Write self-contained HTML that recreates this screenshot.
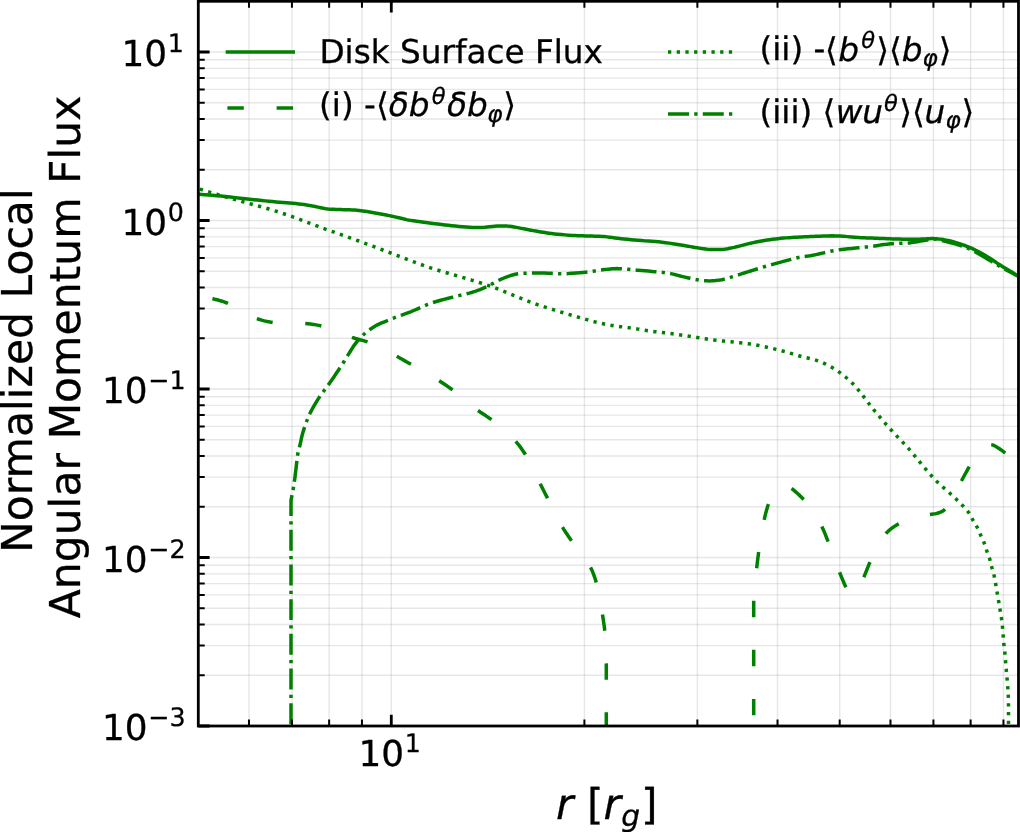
<!DOCTYPE html>
<html lang="en"><head><meta charset="utf-8"><title>Normalized Local Angular Momentum Flux</title>
<style>html,body{margin:0;padding:0;background:#fff}svg{display:block}text{font-family:"DejaVu Sans","Liberation Sans",sans-serif;fill:#000;stroke:#000;stroke-width:.3px;stroke-linejoin:round;text-rendering:geometricPrecision}.it{font-style:italic}.c{fill:none;stroke:#008000;stroke-width:3.5;stroke-linejoin:round}.g{stroke:#b0b0b0;stroke-opacity:.3;stroke-width:1.4;fill:none}.tk{stroke:#000;stroke-width:2.8;fill:none}.tm{stroke:#000;stroke-width:2;fill:none}</style></head><body>
<svg width="1020" height="832" viewBox="0 0 1020 832">
<rect width="1020" height="832" fill="#fff"/>
<defs><clipPath id="ax"><rect x="198.30" y="1.28" width="820.20" height="724.72"/></clipPath></defs>
<path class="g" d="M391.30 1.28V726.00 M248.98 1.28V726.00 M291.93 1.28V726.00 M329.13 1.28V726.00 M361.95 1.28V726.00 M584.41 1.28V726.00 M697.37 1.28V726.00 M777.52 1.28V726.00 M839.69 1.28V726.00 M890.48 1.28V726.00 M933.43 1.28V726.00 M970.63 1.28V726.00 M1003.45 1.28V726.00"/>
<path class="g" d="M198.30 557.50H1018.50 M198.30 389.00H1018.50 M198.30 220.50H1018.50 M198.30 52.00H1018.50 M198.30 675.28H1018.50 M198.30 645.61H1018.50 M198.30 624.55H1018.50 M198.30 608.22H1018.50 M198.30 594.88H1018.50 M198.30 583.60H1018.50 M198.30 573.83H1018.50 M198.30 565.21H1018.50 M198.30 506.78H1018.50 M198.30 477.11H1018.50 M198.30 456.05H1018.50 M198.30 439.72H1018.50 M198.30 426.38H1018.50 M198.30 415.10H1018.50 M198.30 405.33H1018.50 M198.30 396.71H1018.50 M198.30 338.28H1018.50 M198.30 308.61H1018.50 M198.30 287.55H1018.50 M198.30 271.22H1018.50 M198.30 257.88H1018.50 M198.30 246.60H1018.50 M198.30 236.83H1018.50 M198.30 228.21H1018.50 M198.30 169.78H1018.50 M198.30 140.11H1018.50 M198.30 119.05H1018.50 M198.30 102.72H1018.50 M198.30 89.38H1018.50 M198.30 78.10H1018.50 M198.30 68.33H1018.50 M198.30 59.71H1018.50"/>
<g clip-path="url(#ax)">
<path class="c" stroke-linecap="square" d="M196.00 193.80L196.15 193.83L196.18 193.85L196.30 193.88L196.72 193.94L197.65 194.04L199.30 194.20L201.76 194.42L204.88 194.68L208.51 194.98L212.49 195.32L216.67 195.70L220.90 196.10L225.35 196.56L230.19 197.07L235.23 197.62L240.29 198.17L245.17 198.71L249.70 199.20L253.86 199.65L257.80 200.08L261.57 200.49L265.22 200.88L268.81 201.25L272.40 201.60L275.99 201.92L279.54 202.20L283.04 202.47L286.44 202.73L289.74 203.00L292.90 203.30L295.88 203.61L298.70 203.93L301.40 204.25L304.05 204.60L306.70 204.98L309.40 205.40L312.20 205.91L315.06 206.50L317.91 207.13L320.71 207.74L323.39 208.28L325.90 208.70L328.14 208.98L330.16 209.16L332.05 209.27L333.94 209.34L335.96 209.41L338.20 209.50L340.75 209.60L343.54 209.68L346.44 209.76L349.35 209.84L352.14 209.95L354.70 210.10L356.96 210.28L358.99 210.48L360.91 210.71L362.82 210.96L364.85 211.26L367.10 211.60L369.60 212.00L372.27 212.44L375.04 212.93L377.88 213.44L380.71 213.97L383.50 214.50L386.31 215.06L389.21 215.66L392.11 216.28L394.93 216.89L397.59 217.47L400.00 218.00L401.99 218.46L403.60 218.87L405.04 219.24L406.54 219.61L408.32 219.99L410.60 220.40L413.45 220.85L416.73 221.31L420.27 221.79L423.96 222.27L427.65 222.75L431.20 223.20L434.63 223.64L438.07 224.09L441.50 224.52L444.93 224.94L448.37 225.33L451.80 225.70L455.35 226.05L459.05 226.39L462.75 226.71L466.30 226.99L469.57 227.22L472.40 227.40L474.65 227.51L476.41 227.57L477.88 227.59L479.27 227.56L480.77 227.49L482.60 227.40L484.79 227.24L487.20 227.01L489.72 226.74L492.27 226.47L494.76 226.24L497.10 226.10L499.25 226.02L501.29 225.97L503.26 225.96L505.23 226.01L507.25 226.12L509.40 226.30L511.68 226.58L514.04 226.96L516.47 227.39L518.92 227.87L521.38 228.35L523.80 228.80L526.18 229.24L528.52 229.70L530.87 230.16L533.24 230.61L535.68 231.07L538.20 231.50L540.78 231.93L543.39 232.35L546.06 232.76L548.82 233.16L551.69 233.54L554.70 233.90L557.96 234.24L561.48 234.57L565.11 234.88L568.72 235.16L572.16 235.40L575.30 235.60L578.09 235.74L580.65 235.82L583.04 235.87L585.34 235.90L587.64 235.94L590.00 236.00L592.39 236.07L594.74 236.13L597.09 236.19L599.46 236.28L601.88 236.41L604.40 236.60L606.98 236.87L609.59 237.20L612.26 237.57L615.02 237.96L617.89 238.34L620.90 238.70L624.10 239.03L627.46 239.36L630.94 239.68L634.48 240.00L638.02 240.30L641.50 240.60L644.93 240.87L648.37 241.10L651.81 241.33L655.24 241.57L658.67 241.85L662.10 242.20L665.59 242.64L669.16 243.14L672.73 243.69L676.21 244.26L679.53 244.80L682.60 245.30L685.39 245.76L687.96 246.21L690.36 246.64L692.65 247.06L694.88 247.44L697.10 247.80L699.28 248.14L701.36 248.46L703.38 248.76L705.37 249.02L707.37 249.24L709.40 249.40L711.46 249.52L713.53 249.59L715.60 249.62L717.67 249.61L719.74 249.53L721.80 249.40L723.81 249.21L725.75 248.96L727.69 248.66L729.69 248.30L731.81 247.88L734.10 247.40L736.61 246.81L739.29 246.12L742.09 245.37L744.94 244.60L747.80 243.86L750.60 243.20L753.35 242.61L756.10 242.04L758.86 241.51L761.61 241.01L764.36 240.54L767.10 240.10L769.84 239.69L772.57 239.31L775.30 238.97L778.03 238.65L780.76 238.36L783.50 238.10L786.29 237.87L789.13 237.68L791.97 237.51L794.77 237.37L797.46 237.23L800.00 237.10L802.23 236.98L804.17 236.87L806.00 236.77L807.92 236.69L810.12 236.60L812.80 236.50L816.03 236.37L819.69 236.22L823.62 236.06L827.70 235.94L831.77 235.87L835.70 235.90L839.58 236.05L843.55 236.30L847.52 236.62L851.39 236.95L855.08 237.26L858.50 237.50L861.60 237.67L864.44 237.80L867.11 237.91L869.66 238.01L872.16 238.10L874.70 238.20L877.18 238.31L879.53 238.41L881.84 238.51L884.19 238.61L886.68 238.71L889.40 238.80L892.44 238.90L895.75 239.00L899.20 239.11L902.65 239.20L905.96 239.26L909.00 239.30L911.80 239.30L914.46 239.26L916.99 239.21L919.38 239.14L921.62 239.07L923.70 239.00L925.55 238.92L927.16 238.82L928.62 238.72L930.03 238.63L931.45 238.59L933.00 238.60L934.66 238.67L936.38 238.79L938.12 238.94L939.87 239.13L941.60 239.35L943.30 239.60L944.90 239.86L946.41 240.14L947.90 240.45L949.46 240.81L951.17 241.26L953.10 241.80L955.30 242.44L957.71 243.15L960.26 243.94L962.90 244.81L965.57 245.76L968.20 246.80L970.81 247.93L973.47 249.16L976.14 250.47L978.83 251.85L981.52 253.30L984.20 254.80L986.85 256.38L989.49 258.06L992.13 259.81L994.79 261.58L997.47 263.36L1000.20 265.10L1003.14 266.91L1006.31 268.83L1009.52 270.75L1012.55 272.56L1015.21 274.15L1017.30 275.40L1018.73 276.27L1019.66 276.84L1020.22 277.19L1020.54 277.40L1020.75 277.54L1021.00 277.70"/>
<path class="c" stroke-dasharray="3.268 5.392" stroke-dashoffset="4.70" d="M196.00 187.90L196.19 187.96L196.33 188.00L196.56 188.06L197.03 188.20L197.89 188.47L199.30 188.90L201.39 189.55L204.08 190.39L207.16 191.34L210.44 192.36L213.72 193.37L216.80 194.30L219.72 195.17L222.63 196.03L225.55 196.89L228.47 197.73L231.38 198.57L234.30 199.40L237.18 200.20L240.02 200.98L242.86 201.75L245.74 202.53L248.70 203.34L251.80 204.20L255.06 205.11L258.44 206.05L261.91 207.02L265.43 208.03L268.94 209.05L272.40 210.10L275.87 211.19L279.39 212.32L282.91 213.48L286.37 214.64L289.72 215.79L292.90 216.90L295.88 217.97L298.70 219.01L301.40 220.04L304.05 221.06L306.70 222.07L309.40 223.10L312.15 224.14L314.90 225.18L317.65 226.22L320.40 227.26L323.15 228.29L325.90 229.30L328.65 230.29L331.40 231.26L334.16 232.22L336.91 233.17L339.66 234.13L342.40 235.10L345.14 236.07L347.87 237.05L350.60 238.03L353.33 239.01L356.06 240.00L358.80 241.00L361.56 242.02L364.33 243.06L367.11 244.11L369.88 245.15L372.61 246.19L375.30 247.20L377.88 248.17L380.35 249.09L382.79 250.01L385.27 250.94L387.89 251.93L390.70 253.00L393.75 254.18L396.97 255.44L400.32 256.75L403.75 258.09L407.19 259.41L410.60 260.70L413.99 261.96L417.41 263.23L420.86 264.49L424.31 265.73L427.76 266.94L431.20 268.10L434.63 269.21L438.07 270.26L441.50 271.29L444.93 272.29L448.37 273.29L451.80 274.30L455.23 275.30L458.67 276.29L462.11 277.26L465.54 278.25L468.97 279.26L472.40 280.30L475.82 281.37L479.24 282.46L482.65 283.56L486.06 284.70L489.48 285.88L492.90 287.10L496.33 288.39L499.76 289.73L503.19 291.11L506.63 292.51L510.07 293.92L513.50 295.30L516.93 296.69L520.37 298.09L523.80 299.50L527.23 300.89L530.67 302.23L534.10 303.50L537.53 304.70L540.97 305.83L544.40 306.93L547.83 307.99L551.27 309.04L554.70 310.10L558.13 311.16L561.57 312.21L565.00 313.25L568.43 314.28L571.87 315.29L575.30 316.30L578.80 317.32L582.39 318.36L585.97 319.39L589.47 320.38L592.81 321.29L595.90 322.10L598.62 322.78L601.02 323.34L603.25 323.83L605.48 324.28L607.88 324.73L610.60 325.20L613.69 325.69L617.03 326.17L620.53 326.65L624.11 327.13L627.70 327.61L631.20 328.10L634.63 328.61L638.07 329.14L641.50 329.67L644.93 330.20L648.37 330.71L651.80 331.20L655.19 331.65L658.51 332.06L661.84 332.46L665.23 332.87L668.73 333.31L672.40 333.80L676.38 334.37L680.64 335.00L685.01 335.66L689.33 336.31L693.42 336.94L697.10 337.50L700.27 337.99L703.03 338.44L705.56 338.85L708.03 339.24L710.62 339.62L713.50 340.00L716.74 340.37L720.21 340.73L723.79 341.08L727.38 341.42L730.86 341.76L734.10 342.10L737.09 342.43L739.90 342.73L742.61 343.04L745.25 343.36L747.90 343.70L750.60 344.10L753.35 344.54L756.10 345.01L758.86 345.52L761.61 346.05L764.36 346.61L767.10 347.20L769.82 347.81L772.52 348.45L775.21 349.12L777.93 349.81L780.68 350.54L783.50 351.30L786.45 352.12L789.51 353.02L792.62 353.94L795.69 354.86L798.64 355.72L801.40 356.50L803.95 357.16L806.36 357.72L808.66 358.24L810.86 358.74L813.00 359.28L815.10 359.90L817.13 360.57L819.07 361.26L820.94 361.99L822.78 362.76L824.62 363.59L826.50 364.50L828.41 365.48L830.33 366.52L832.25 367.62L834.17 368.78L836.09 370.01L838.00 371.30L839.93 372.68L841.89 374.14L843.85 375.67L845.77 377.24L847.63 378.82L849.40 380.40L850.97 381.86L852.35 383.19L853.66 384.53L855.04 386.04L856.61 387.85L858.50 390.10L860.75 392.91L863.28 396.19L866.00 399.77L868.83 403.49L871.69 407.19L874.50 410.70L877.29 414.06L880.11 417.41L882.98 420.74L885.85 424.04L888.73 427.30L891.60 430.50L894.46 433.61L897.33 436.63L900.20 439.60L903.07 442.59L905.94 445.63L908.80 448.80L911.72 452.19L914.72 455.80L917.71 459.46L920.63 463.05L923.38 466.41L925.90 469.40L928.12 471.96L930.08 474.21L931.88 476.23L933.62 478.11L935.40 479.97L937.30 481.90L939.33 483.86L941.41 485.76L943.52 487.63L945.66 489.49L947.79 491.37L949.90 493.30L952.07 495.32L954.31 497.43L956.56 499.56L958.73 501.64L960.74 503.61L962.50 505.40L964.01 506.99L965.32 508.44L966.48 509.77L967.50 511.02L968.43 512.22L969.30 513.40L970.05 514.52L970.64 515.53L971.14 516.50L971.60 517.47L972.10 518.48L972.70 519.60L973.41 520.84L974.20 522.16L975.01 523.54L975.83 524.93L976.60 526.29L977.30 527.60L977.91 528.84L978.46 530.04L978.97 531.22L979.46 532.39L979.97 533.58L980.50 534.80L981.07 536.04L981.67 537.29L982.27 538.56L982.87 539.84L983.45 541.15L984.00 542.50L984.52 543.90L985.01 545.35L985.49 546.83L985.96 548.31L986.42 549.77L986.90 551.20L987.39 552.58L987.90 553.93L988.40 555.27L988.89 556.60L989.36 557.94L989.80 559.30L990.20 560.69L990.56 562.09L990.89 563.51L991.22 564.92L991.55 566.32L991.90 567.70L992.27 569.05L992.64 570.36L993.03 571.67L993.40 572.98L993.76 574.32L994.10 575.70L994.42 577.14L994.71 578.62L995.00 580.12L995.27 581.64L995.54 583.14L995.80 584.60L996.05 586.03L996.29 587.43L996.51 588.82L996.74 590.20L996.96 591.59L997.20 593.00L997.45 594.42L997.70 595.86L997.95 597.30L998.20 598.74L998.45 600.18L998.70 601.60L998.94 603.01L999.17 604.41L999.41 605.81L999.64 607.20L999.87 608.60L1000.10 610.00L1000.34 611.41L1000.58 612.82L1000.83 614.24L1001.06 615.66L1001.29 617.08L1001.50 618.50L1001.69 619.93L1001.87 621.36L1002.04 622.79L1002.20 624.22L1002.36 625.66L1002.50 627.10L1002.63 628.55L1002.76 630.00L1002.87 631.45L1002.98 632.90L1003.09 634.35L1003.20 635.80L1003.31 637.24L1003.42 638.67L1003.53 640.10L1003.64 641.53L1003.77 642.96L1003.90 644.40L1004.05 645.85L1004.22 647.30L1004.40 648.75L1004.58 650.20L1004.75 651.65L1004.90 653.10L1005.03 654.54L1005.16 655.98L1005.27 657.42L1005.38 658.85L1005.49 660.28L1005.60 661.70L1005.72 663.11L1005.83 664.50L1005.94 665.88L1006.06 667.27L1006.18 668.67L1006.30 670.10L1006.43 671.56L1006.56 673.04L1006.70 674.53L1006.84 676.03L1006.97 677.52L1007.10 679.00L1007.22 680.46L1007.35 681.92L1007.47 683.37L1007.59 684.81L1007.70 686.26L1007.80 687.70L1007.90 689.14L1007.99 690.57L1008.08 692.00L1008.16 693.43L1008.24 694.86L1008.30 696.30L1008.35 697.74L1008.40 699.19L1008.43 700.64L1008.46 702.10L1008.48 703.55L1008.50 705.00L1008.51 706.45L1008.51 707.90L1008.51 709.36L1008.51 710.81L1008.50 712.26L1008.50 713.70L1008.50 715.14L1008.50 716.57L1008.50 718.00L1008.50 719.43L1008.50 720.86L1008.50 722.30L1008.50 723.84L1008.50 725.51L1008.50 727.19L1008.50 728.74L1008.50 730.05L1008.50 731.00"/>
<path class="c" stroke-dasharray="20.941 5.235 3.272 5.235" stroke-dashoffset="32.82" d="M291.00 726.00L291.00 500.70L291.10 500.10L291.24 499.28L291.41 498.31L291.60 497.23L291.80 496.11L292.00 495.00L292.21 493.91L292.43 492.79L292.67 491.62L292.91 490.39L293.16 489.09L293.40 487.70L293.64 486.26L293.88 484.79L294.12 483.24L294.37 481.57L294.63 479.74L294.90 477.70L295.20 475.30L295.54 472.54L295.88 469.62L296.22 466.73L296.53 464.06L296.80 461.80L297.00 460.04L297.15 458.63L297.28 457.44L297.40 456.35L297.57 455.21L297.80 453.90L298.10 452.46L298.44 451.01L298.82 449.52L299.23 447.96L299.66 446.29L300.10 444.50L300.53 442.59L300.96 440.58L301.41 438.47L301.91 436.26L302.49 433.93L303.20 431.50L304.02 428.90L304.92 426.14L305.91 423.27L306.99 420.35L308.15 417.44L309.40 414.60L310.75 411.82L312.20 409.03L313.73 406.26L315.34 403.51L317.00 400.79L318.70 398.10L320.45 395.49L322.28 392.97L324.16 390.48L326.08 387.95L328.03 385.35L330.00 382.60L332.00 379.70L334.06 376.69L336.14 373.60L338.23 370.45L340.33 367.28L342.40 364.10L344.49 360.80L346.62 357.33L348.74 353.84L350.83 350.46L352.82 347.33L354.70 344.60L356.40 342.33L357.95 340.41L359.41 338.75L360.86 337.24L362.37 335.79L364.00 334.30L365.76 332.77L367.58 331.28L369.46 329.85L371.39 328.49L373.34 327.20L375.30 326.00L377.34 324.90L379.47 323.88L381.64 322.94L383.76 322.07L385.77 321.26L387.60 320.50L389.14 319.85L390.43 319.31L391.60 318.84L392.81 318.37L394.19 317.85L395.90 317.20L397.91 316.46L400.11 315.68L402.48 314.84L405.03 313.92L407.73 312.92L410.60 311.80L413.69 310.51L417.03 309.03L420.53 307.47L424.11 305.90L427.70 304.41L431.20 303.10L434.63 301.97L438.07 300.96L441.50 300.03L444.93 299.15L448.37 298.29L451.80 297.40L455.31 296.51L458.90 295.64L462.49 294.79L465.99 293.94L469.33 293.08L472.40 292.20L475.16 291.31L477.66 290.43L479.99 289.54L482.23 288.61L484.47 287.64L486.80 286.60L489.22 285.44L491.68 284.16L494.13 282.83L496.56 281.52L498.92 280.29L501.20 279.20L503.39 278.25L505.53 277.37L507.61 276.57L509.63 275.86L511.59 275.24L513.50 274.70L515.21 274.27L516.70 273.96L518.13 273.73L519.68 273.56L521.51 273.43L523.80 273.30L526.64 273.19L529.90 273.11L533.46 273.08L537.15 273.06L540.85 273.07L544.40 273.10L547.83 273.18L551.27 273.32L554.70 273.48L558.13 273.63L561.57 273.71L565.00 273.70L568.58 273.57L572.35 273.34L576.12 273.05L579.70 272.74L582.92 272.45L585.60 272.20L587.56 272.01L588.93 271.85L589.93 271.71L590.80 271.56L591.78 271.40L593.10 271.20L594.75 270.96L596.54 270.69L598.44 270.40L600.41 270.11L602.41 269.84L604.40 269.60L606.38 269.38L608.38 269.15L610.41 268.94L612.48 268.76L614.60 268.64L616.80 268.60L619.01 268.64L621.22 268.76L623.49 268.93L625.87 269.13L628.42 269.36L631.20 269.60L634.32 269.85L637.76 270.14L641.38 270.46L645.01 270.78L648.54 271.10L651.80 271.40L654.80 271.67L657.65 271.91L660.39 272.14L663.04 272.40L665.63 272.71L668.20 273.10L670.71 273.58L673.14 274.15L675.52 274.76L677.87 275.40L680.22 276.02L682.60 276.60L685.04 277.16L687.51 277.73L689.98 278.29L692.43 278.82L694.81 279.30L697.10 279.70L699.28 280.04L701.36 280.33L703.38 280.57L705.37 280.75L707.37 280.86L709.40 280.90L711.46 280.87L713.53 280.76L715.60 280.59L717.67 280.36L719.74 280.06L721.80 279.70L723.81 279.27L725.75 278.77L727.69 278.20L729.69 277.58L731.81 276.91L734.10 276.20L736.61 275.43L739.29 274.59L742.09 273.70L744.94 272.79L747.80 271.88L750.60 271.00L753.35 270.14L756.10 269.27L758.86 268.41L761.61 267.55L764.36 266.71L767.10 265.90L769.84 265.11L772.57 264.34L775.30 263.59L778.03 262.86L780.76 262.13L783.50 261.40L786.29 260.66L789.13 259.89L791.97 259.14L794.77 258.42L797.46 257.76L800.00 257.20L802.23 256.79L804.17 256.51L806.00 256.30L807.92 256.08L810.12 255.77L812.80 255.30L816.03 254.62L819.69 253.77L823.62 252.84L827.70 251.90L831.77 251.02L835.70 250.30L839.68 249.72L843.86 249.22L848.04 248.79L852.01 248.41L855.56 248.09L858.50 247.80L860.69 247.57L862.28 247.40L863.45 247.29L864.40 247.20L865.32 247.11L866.40 247.00L867.56 246.89L868.62 246.80L869.65 246.71L870.71 246.60L871.88 246.47L873.20 246.30L874.71 246.07L876.37 245.78L878.13 245.47L879.94 245.15L881.74 244.85L883.50 244.60L885.26 244.38L887.06 244.19L888.86 244.01L890.62 243.86L892.28 243.72L893.80 243.60L895.14 243.51L896.34 243.44L897.44 243.40L898.50 243.37L899.57 243.34L900.70 243.30L901.85 243.28L902.97 243.28L904.11 243.29L905.29 243.27L906.58 243.22L908.00 243.10L909.61 242.90L911.38 242.64L913.24 242.34L915.14 242.02L917.02 241.70L918.80 241.40L920.54 241.11L922.29 240.80L924.01 240.49L925.66 240.19L927.20 239.93L928.60 239.70L929.70 239.48L930.50 239.24L931.20 239.02L931.97 238.89L933.01 238.86L934.50 239.00L936.48 239.31L938.82 239.77L941.42 240.34L944.20 241.00L947.06 241.73L949.90 242.50L952.81 243.31L955.87 244.19L959.01 245.12L962.16 246.14L965.25 247.23L968.20 248.40L971.00 249.68L973.70 251.06L976.34 252.52L978.95 254.03L981.56 255.57L984.20 257.10L986.85 258.65L989.49 260.25L992.13 261.88L994.79 263.50L997.47 265.12L1000.20 266.70L1003.14 268.33L1006.31 270.03L1009.52 271.71L1012.55 273.30L1015.21 274.69L1017.30 275.80L1018.73 276.59L1019.66 277.13L1020.22 277.47L1020.54 277.69L1020.75 277.84L1021.00 278.00"/>
<path class="c" stroke-dasharray="16.320 32.640" stroke-dashoffset="48.77" d="M212.20 298.60L213.05 298.81L214.23 299.09L215.62 299.43L217.12 299.80L218.62 300.20L220.00 300.60L221.21 300.96L222.33 301.28L223.44 301.62L224.65 302.04L226.04 302.62L227.70 303.40L229.70 304.46L231.98 305.75L234.44 307.19L236.99 308.69L239.54 310.16L242.00 311.50L244.36 312.75L246.69 313.99L249.01 315.20L251.37 316.35L253.79 317.43L256.30 318.40L258.93 319.28L261.65 320.10L264.43 320.84L267.24 321.49L270.04 322.05L272.80 322.50L275.52 322.82L278.22 323.00L280.91 323.09L283.60 323.13L286.30 323.15L289.00 323.20L291.71 323.23L294.43 323.21L297.16 323.18L299.88 323.17L302.59 323.23L305.30 323.40L308.00 323.67L310.70 324.00L313.39 324.40L316.08 324.87L318.75 325.40L321.40 326.00L324.03 326.68L326.65 327.44L329.26 328.26L331.85 329.14L334.43 330.06L337.00 331.00L339.56 332.01L342.09 333.10L344.62 334.23L347.14 335.36L349.67 336.43L352.20 337.40L354.75 338.25L357.32 339.00L359.89 339.70L362.46 340.39L365.00 341.11L367.50 341.90L369.96 342.73L372.38 343.57L374.78 344.43L377.17 345.36L379.57 346.37L382.00 347.50L384.47 348.79L386.97 350.23L389.47 351.75L391.98 353.31L394.46 354.84L396.90 356.30L399.30 357.68L401.66 359.03L404.01 360.36L406.34 361.67L408.67 362.98L411.00 364.30L413.34 365.62L415.67 366.92L418.00 368.22L420.33 369.53L422.66 370.85L425.00 372.20L427.35 373.57L429.71 374.96L432.07 376.36L434.43 377.78L436.77 379.22L439.10 380.70L441.42 382.20L443.73 383.73L446.04 385.28L448.32 386.86L450.58 388.47L452.80 390.10L454.98 391.78L457.12 393.51L459.23 395.27L461.33 397.03L463.41 398.78L465.50 400.50L467.57 402.18L469.61 403.86L471.64 405.51L473.68 407.16L475.76 408.78L477.90 410.40L480.12 411.99L482.42 413.54L484.75 415.08L487.08 416.63L489.38 418.19L491.60 419.80L493.75 421.44L495.86 423.10L497.93 424.79L499.97 426.50L501.99 428.23L504.00 430.00L506.00 431.78L507.99 433.58L509.96 435.41L511.90 437.27L513.78 439.20L515.60 441.20L517.36 443.28L519.08 445.43L520.75 447.64L522.36 449.90L523.91 452.19L525.40 454.50L526.80 456.85L528.12 459.25L529.38 461.68L530.59 464.13L531.79 466.58L533.00 469.00L534.20 471.40L535.36 473.80L536.51 476.19L537.65 478.58L538.81 480.98L540.00 483.40L541.22 485.84L542.46 488.29L543.72 490.75L544.98 493.21L546.24 495.66L547.50 498.10L548.75 500.51L550.00 502.91L551.25 505.30L552.50 507.69L553.75 510.09L555.00 512.50L556.23 514.94L557.43 517.40L558.63 519.87L559.86 522.33L561.14 524.78L562.50 527.20L563.95 529.60L565.49 531.98L567.07 534.34L568.68 536.69L570.30 539.01L571.90 541.30L573.49 543.55L575.10 545.77L576.72 547.97L578.33 550.15L579.93 552.32L581.50 554.50L583.08 556.66L584.70 558.77L586.29 560.89L587.84 563.03L589.29 565.22L590.60 567.50L591.77 569.88L592.83 572.33L593.79 574.84L594.67 577.39L595.51 579.95L596.30 582.50L597.05 585.04L597.73 587.59L598.35 590.14L598.93 592.73L599.48 595.34L600.00 598.00L600.49 600.73L600.93 603.52L601.34 606.34L601.73 609.17L602.11 611.97L602.50 614.70L602.90 617.34L603.30 619.90L603.69 622.44L604.06 624.99L604.40 627.59L604.70 630.30L604.95 633.15L605.17 636.11L605.36 639.14L605.52 642.16L605.66 645.14L605.80 648.00L605.92 650.93L606.03 653.99L606.12 657.01L606.19 659.77L606.25 662.10L606.30 663.80L606.30 740.00"/>
<path class="c" stroke-dasharray="16.350 32.700" stroke-dashoffset="38.31" d="M753.70 726.00L753.70 600.00L753.84 598.25L754.03 595.83L754.25 592.96L754.50 589.87L754.75 586.81L755.00 584.00L755.24 581.42L755.50 578.88L755.76 576.36L756.03 573.84L756.31 571.29L756.60 568.70L756.91 566.06L757.22 563.38L757.55 560.68L757.89 557.96L758.24 555.23L758.60 552.50L758.97 549.76L759.34 547.00L759.73 544.24L760.13 541.47L760.55 538.72L761.00 536.00L761.46 533.30L761.94 530.61L762.44 527.94L762.96 525.28L763.51 522.63L764.10 520.00L764.72 517.35L765.36 514.67L766.04 512.00L766.75 509.39L767.50 506.88L768.30 504.50L769.15 502.22L770.06 499.99L771.01 497.86L771.99 495.87L772.99 494.07L774.00 492.50L775.05 491.18L776.14 490.08L777.26 489.17L778.38 488.42L779.47 487.80L780.50 487.30L781.47 486.94L782.40 486.77L783.30 486.73L784.19 486.78L785.08 486.88L786.00 487.00L786.86 487.04L787.64 487.03L788.43 487.07L789.30 487.28L790.37 487.75L791.70 488.60L793.40 489.90L795.41 491.58L797.61 493.53L799.86 495.64L802.04 497.80L804.00 499.90L805.76 501.97L807.42 504.12L809.00 506.31L810.53 508.54L812.02 510.77L813.50 513.00L814.97 515.20L816.42 517.39L817.84 519.59L819.21 521.83L820.53 524.12L821.80 526.50L822.99 528.98L824.12 531.55L825.20 534.18L826.24 536.84L827.27 539.49L828.30 542.10L829.32 544.68L830.33 547.26L831.31 549.83L832.29 552.40L833.25 554.95L834.20 557.50L835.13 560.04L836.04 562.57L836.93 565.10L837.83 567.61L838.75 570.12L839.70 572.60L840.72 575.16L841.79 577.81L842.89 580.45L843.96 582.97L844.98 585.25L845.90 587.20L846.71 588.78L847.43 590.09L848.10 591.16L848.73 592.05L849.36 592.81L850.00 593.50L850.65 594.13L851.27 594.66L851.89 595.07L852.51 595.31L853.15 595.37L853.80 595.20L854.46 594.83L855.10 594.27L855.76 593.53L856.45 592.58L857.19 591.41L858.00 590.00L858.89 588.29L859.86 586.27L860.88 584.02L861.92 581.64L862.97 579.21L864.00 576.80L865.00 574.39L865.99 571.90L866.99 569.35L868.01 566.77L869.07 564.18L870.20 561.60L871.40 558.99L872.66 556.33L873.96 553.66L875.30 551.02L876.65 548.45L878.00 546.00L879.31 543.64L880.59 541.35L881.88 539.13L883.24 536.99L884.73 534.95L886.40 533.00L888.28 531.15L890.33 529.39L892.51 527.71L894.78 526.14L897.09 524.66L899.40 523.30L901.73 522.05L904.10 520.90L906.53 519.86L908.99 518.92L911.48 518.07L914.00 517.30L916.65 516.65L919.46 516.11L922.30 515.67L925.05 515.30L927.59 514.95L929.80 514.60L931.62 514.30L933.13 514.08L934.43 513.89L935.61 513.68L936.77 513.40L938.00 513.00L939.26 512.56L940.47 512.14L941.65 511.66L942.83 511.01L944.04 510.12L945.30 508.90L946.62 507.28L947.98 505.32L949.37 503.12L950.76 500.77L952.15 498.36L953.50 496.00L954.82 493.64L956.12 491.20L957.41 488.71L958.70 486.19L959.99 483.68L961.30 481.20L962.63 478.73L963.96 476.24L965.31 473.76L966.65 471.31L967.98 468.92L969.30 466.60L970.61 464.33L971.91 462.06L973.21 459.86L974.50 457.75L975.76 455.78L977.00 454.00L978.21 452.39L979.39 450.91L980.54 449.57L981.69 448.39L982.84 447.36L984.00 446.50L985.18 445.82L986.37 445.32L987.56 444.97L988.74 444.77L989.89 444.69L991.00 444.70L992.04 444.83L993.01 445.10L993.96 445.49L994.91 445.99L995.91 446.56L997.00 447.20L998.19 447.93L999.46 448.78L1000.77 449.71L1002.10 450.70L1003.42 451.70L1004.70 452.70L1005.92 453.68L1007.10 454.68L1008.27 455.69L1009.46 456.74L1010.69 457.84L1012.00 459.00L1013.51 460.33L1015.21 461.84L1016.96 463.39L1018.60 464.86L1020.00 466.11L1021.00 467.00"/>
</g>
<path class="c" stroke-linecap="square" d="M227.4 51.9H293.2"/>
<path class="c" stroke-dasharray="16.400 32.800" d="M227.4 108.1H293.2"/>
<path class="c" stroke-dasharray="3.280 5.412" d="M668 52H733"/>
<path class="c" stroke-dasharray="20.992 5.248 3.280 5.248" d="M668 114.1H733"/>
<path class="tk" d="M391.30 726.00v-11.30M391.30 1.28v11.30M198.30 726.00h11.30M198.30 557.50h11.30M198.30 389.00h11.30M198.30 220.50h11.30M198.30 52.00h11.30"/>
<path class="tm" d="M248.98 726.00v-6.40M248.98 1.28v6.40M291.93 726.00v-6.40M291.93 1.28v6.40M329.13 726.00v-6.40M329.13 1.28v6.40M361.95 726.00v-6.40M361.95 1.28v6.40M584.41 726.00v-6.40M584.41 1.28v6.40M697.37 726.00v-6.40M697.37 1.28v6.40M777.52 726.00v-6.40M777.52 1.28v6.40M839.69 726.00v-6.40M839.69 1.28v6.40M890.48 726.00v-6.40M890.48 1.28v6.40M933.43 726.00v-6.40M933.43 1.28v6.40M970.63 726.00v-6.40M970.63 1.28v6.40M1003.45 726.00v-6.40M1003.45 1.28v6.40M198.30 675.28h6.40M198.30 645.61h6.40M198.30 624.55h6.40M198.30 608.22h6.40M198.30 594.88h6.40M198.30 583.60h6.40M198.30 573.83h6.40M198.30 565.21h6.40M198.30 506.78h6.40M198.30 477.11h6.40M198.30 456.05h6.40M198.30 439.72h6.40M198.30 426.38h6.40M198.30 415.10h6.40M198.30 405.33h6.40M198.30 396.71h6.40M198.30 338.28h6.40M198.30 308.61h6.40M198.30 287.55h6.40M198.30 271.22h6.40M198.30 257.88h6.40M198.30 246.60h6.40M198.30 236.83h6.40M198.30 228.21h6.40M198.30 169.78h6.40M198.30 140.11h6.40M198.30 119.05h6.40M198.30 102.72h6.40M198.30 89.38h6.40M198.30 78.10h6.40M198.30 68.33h6.40M198.30 59.71h6.40"/>
<rect x="198.30" y="1.28" width="820.20" height="724.72" fill="none" stroke="#000" stroke-width="2.8"/>
<text font-size="35.80" x="121.60" y="66.30">10</text>
<text font-size="25.30" x="167.85" y="52.25">1</text>
<text font-size="35.80" x="121.60" y="234.80">10</text>
<text font-size="25.30" x="167.85" y="220.75">0</text>
<text font-size="35.80" x="102.00" y="403.30">10</text>
<text font-size="25.30" x="148.25" y="389.25">−1</text>
<text font-size="35.80" x="102.00" y="571.80">10</text>
<text font-size="25.30" x="148.25" y="557.75">−2</text>
<text font-size="35.80" x="102.00" y="740.30">10</text>
<text font-size="25.30" x="148.25" y="726.25">−3</text>
<text font-size="35.80" x="358.50" y="765.70">10</text>
<text font-size="25.30" x="404.75" y="752.20">1</text>
<text class="it" font-size="42.40" x="556.11" y="819.10">r</text>
<text font-size="42.40" x="587.06" y="819.10">[</text>
<text class="it" font-size="42.40" x="603.51" y="819.10">r</text>
<text class="it" font-size="29.68" x="621.34" y="826.10">g</text>
<text font-size="42.40" x="640.88" y="819.10">]</text>
<text font-size="42.50" transform="translate(32.3 548.8) rotate(-90)" x="-4.17" y="0">Normalized Local</text>
<text font-size="42.50" transform="translate(79.8 618.0) rotate(-90)" x="-0.33" y="0">Angular Momentum Flux</text>
<text font-size="32.70" x="319.39" y="63.40">Disk Surface Flux</text>
<text font-size="32.70" x="319.09" y="116.40">(i) -</text>
<text font-size="32.70" x="376.08" y="116.40">⟨</text>
<text class="it" font-size="32.70" x="388.63" y="116.40">δ</text>
<text class="it" font-size="32.70" x="408.82" y="116.40">b</text>
<text class="it" font-size="22.60" x="431.65" y="103.60">θ</text>
<text class="it" font-size="32.70" x="447.03" y="116.40">δ</text>
<text class="it" font-size="32.70" x="466.92" y="116.40">b</text>
<text class="it" font-size="23.20" x="487.28" y="121.90">φ</text>
<text font-size="32.70" x="503.18" y="116.40">⟩</text>
<text font-size="32.70" x="759.49" y="60.40">(ii) -</text>
<text font-size="32.70" x="824.98" y="60.80">⟨</text>
<text class="it" font-size="32.70" x="838.22" y="60.80">b</text>
<text class="it" font-size="22.60" x="861.25" y="48.30">θ</text>
<text font-size="32.70" x="876.18" y="60.80">⟩</text>
<text font-size="32.70" x="888.88" y="60.80">⟨</text>
<text class="it" font-size="32.70" x="901.72" y="60.80">b</text>
<text class="it" font-size="23.20" x="922.58" y="66.10">φ</text>
<text font-size="32.70" x="938.78" y="60.80">⟩</text>
<text font-size="32.70" x="759.49" y="122.90">(iii)</text>
<text font-size="32.70" x="822.58" y="122.90">⟨</text>
<text class="it" font-size="32.70" x="835.82" y="122.90">w</text>
<text class="it" font-size="32.70" x="862.33" y="122.90">u</text>
<text class="it" font-size="22.60" x="884.05" y="110.50">θ</text>
<text font-size="32.70" x="899.28" y="122.90">⟩</text>
<text font-size="32.70" x="911.98" y="122.90">⟨</text>
<text class="it" font-size="32.70" x="924.43" y="122.90">u</text>
<text class="it" font-size="23.20" x="945.58" y="128.00">φ</text>
<text font-size="32.70" x="961.48" y="122.90">⟩</text>
</svg></body></html>
